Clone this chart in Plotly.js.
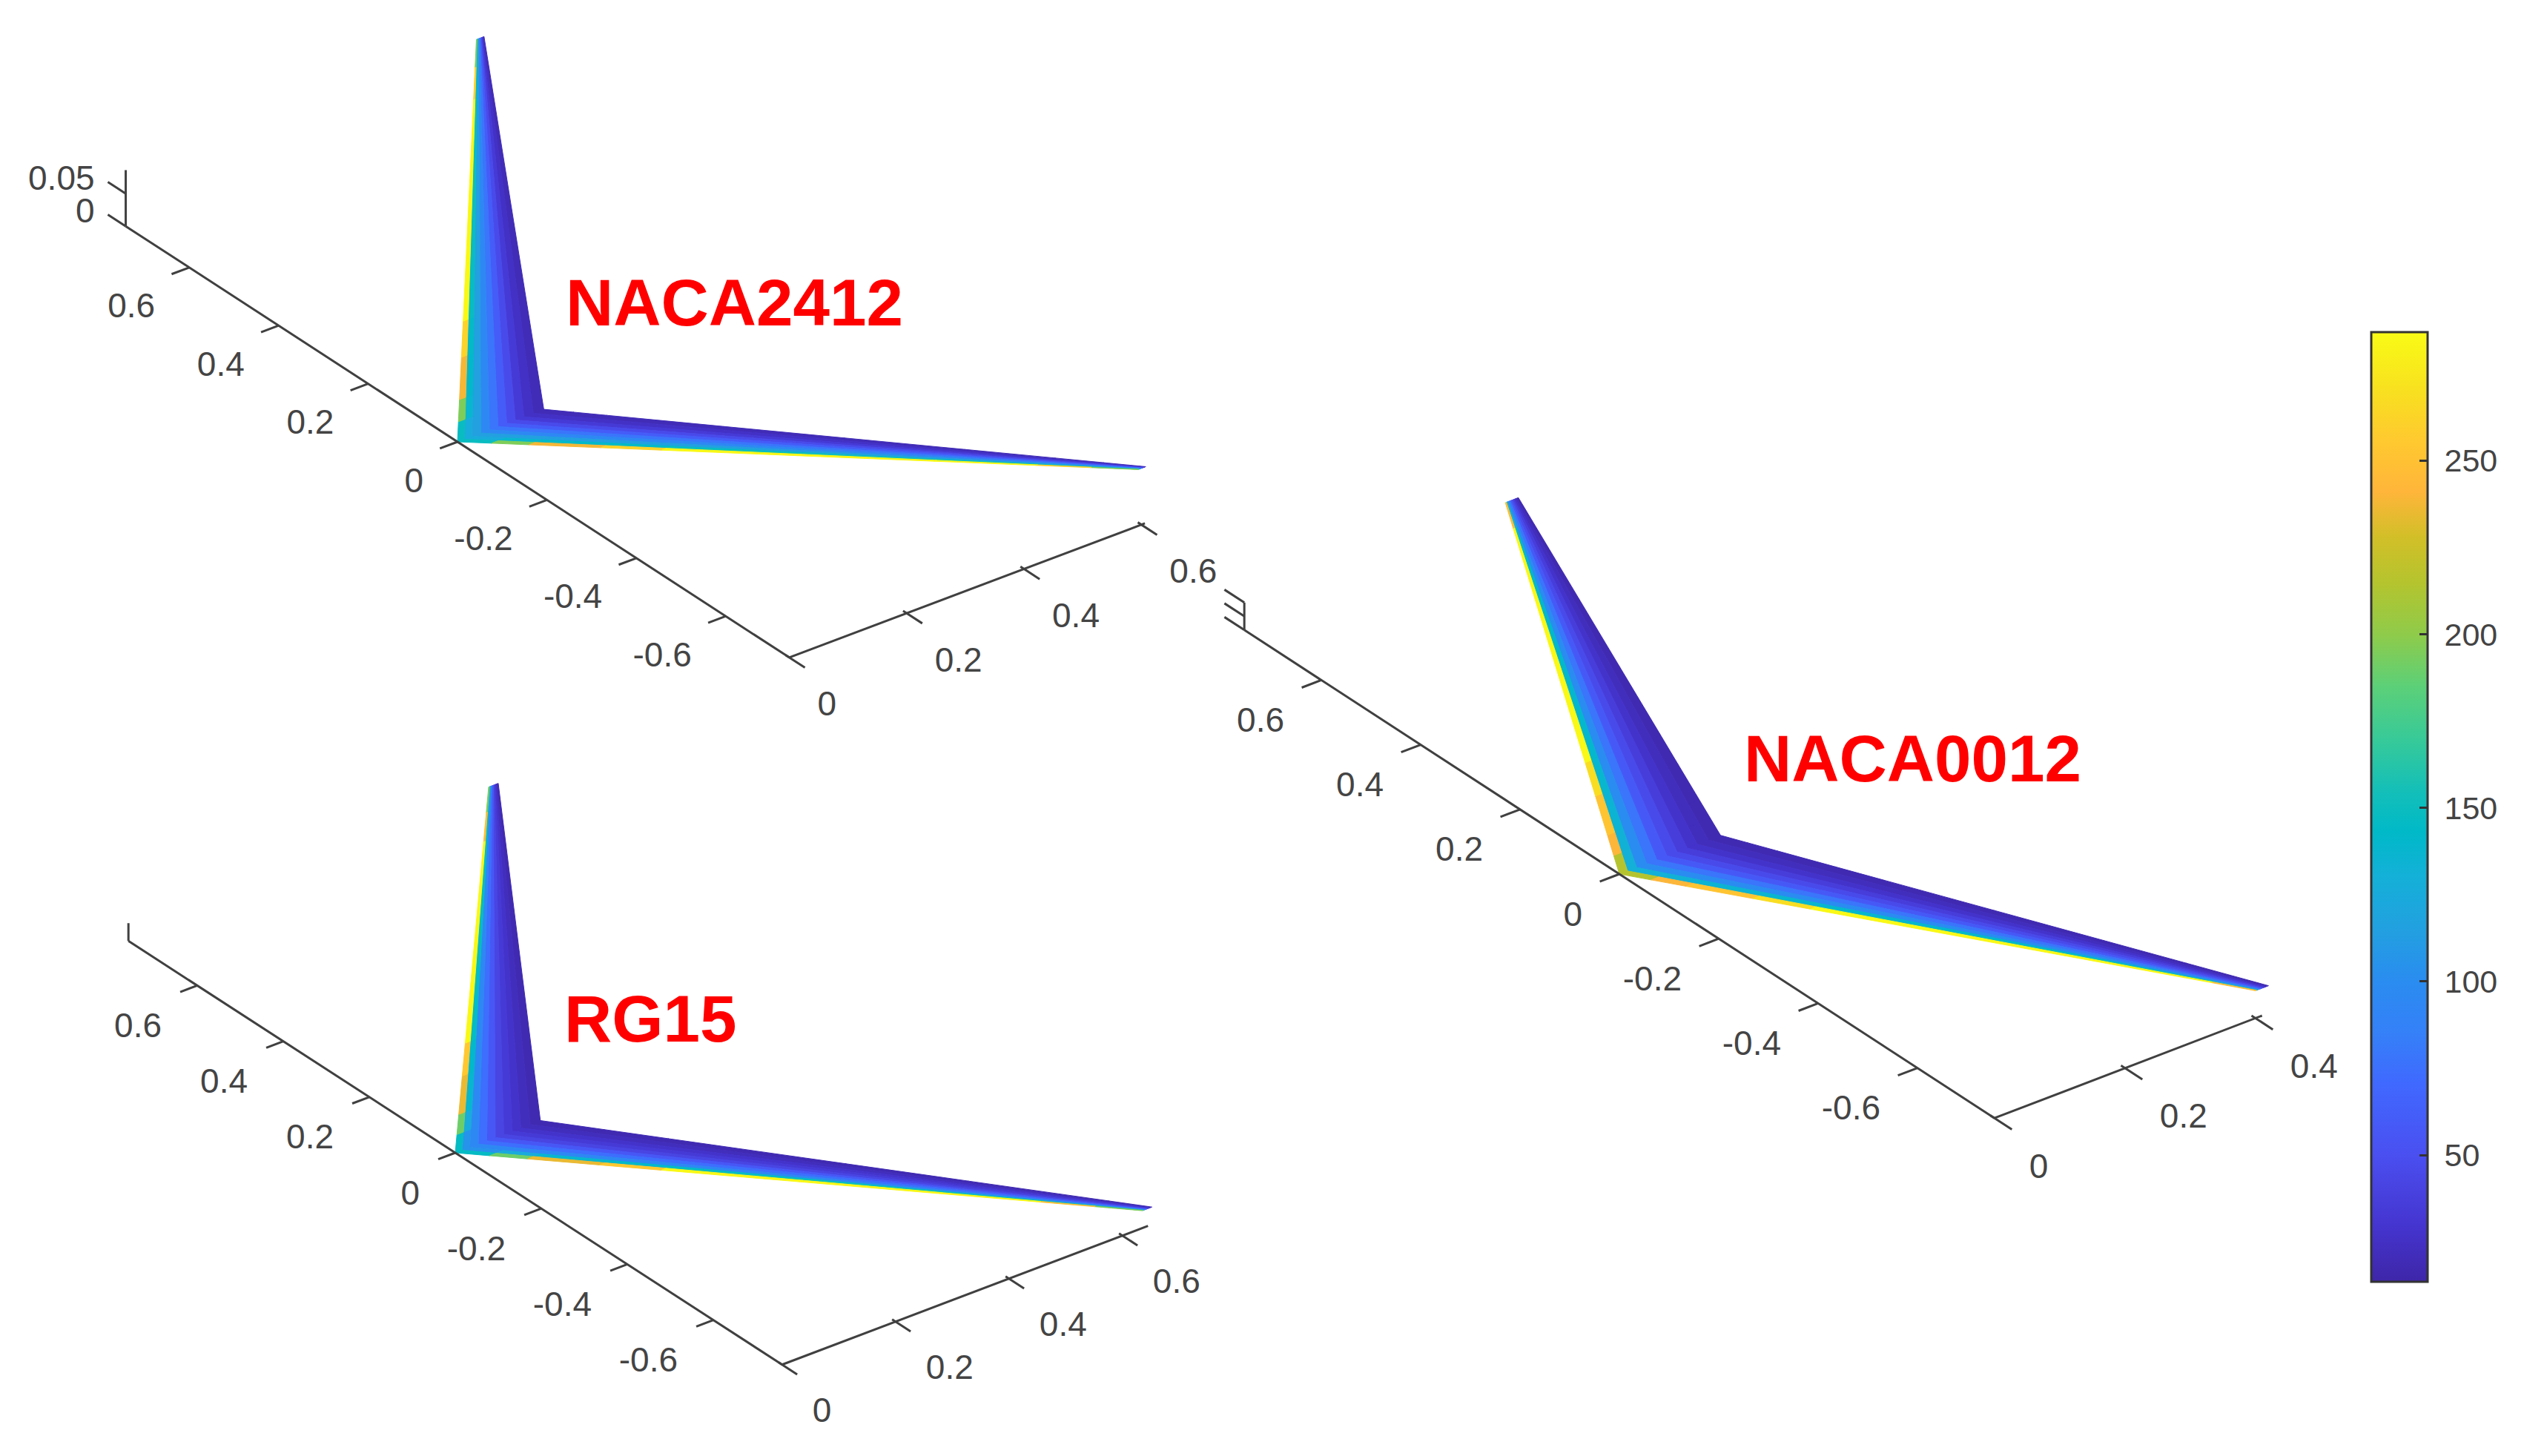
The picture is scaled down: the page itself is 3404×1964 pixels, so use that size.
<!DOCTYPE html>
<html>
<head>
<meta charset="utf-8">
<script src="https://cdn.plot.ly/plotly-3.0.1.min.js"></script>
<style>html,body{margin:0;padding:0;background:#fff;overflow:hidden}#chart{width:3404px;height:1964px}</style>
</head>
<body>
<div id="chart"></div>
<script>
// ---------- data ----------
const spanStations  = [0, 0.05, 0.105, 0.21, 0.3, 0.5, 0.7, 0.85, 0.93, 1];
const chordStations = [0, 0.08, 0.17, 0.27, 0.37, 0.47, 0.57, 0.67, 0.77, 0.88, 1];

const naca2412Leading = [148, 195, 238, 262, 285, 285, 285, 262, 195];
const naca2412Second  = [125, 138, 142, 145, 148, 150, 148, 140, 130];
const naca2412Bands   = [115, 95, 78, 60, 46, 34, 26, 20, 14];

const rg15Leading = [146, 190, 235, 255, 285, 285, 285, 250, 195];
const rg15Second  = [105, 125, 138, 142, 146, 148, 146, 140, 128];
const rg15Bands   = [95, 74, 56, 42, 34, 28, 22, 18, 14];

const naca0012Leading = [215, 240, 252, 268, 285, 285, 285, 285, 250];
const naca0012Second  = [130, 132, 135, 138, 140, 142, 142, 140, 130];
const naca0012Bands   = [100, 78, 58, 46, 36, 28, 22, 18, 14];

const yTicks = [0.6, 0.4, 0.2, 0, -0.2, -0.4, -0.6];
const yTickLabels = ['0.6', '0.4', '0.2', '0', '-0.2', '-0.4', '-0.6'];

const colorValues = [14, 30, 50, 70, 85, 100, 115, 130, 143, 155, 170, 185, 200, 215, 228, 241, 255, 270, 287];
const colorHex = ['#3e26a8','#4535d0','#4a4ff0','#4068ff','#3580f8','#2a8cf0','#22a0e0','#14b0d8','#00b9c8','#14bfb8','#38ca98','#5cd078','#8fcb4a','#b5c42e','#d2bf28','#ffb53a','#ffc830','#f8e020','#f9fb15'];
const colorMin = 13.5, colorMax = 287;
const colorbarTicks = [50, 100, 150, 200, 250];

// ---------- view of each wing: how the three data axes lie on the page ----------
const panels = [
  {name:'NACA2412', leading:naca2412Leading, second:naca2412Second, bands:naca2412Bands,
   origin:[617,596], ex:[791.5,-298.5], ey:[-603,-392], ez:[0,-880],
   yLim:0.742, xEnd:0.606, zEnd:0.086, rootChord:0.147, tipLE:0.596, tipTE:0.609, tipY:0.74, tipZ:0.085,
   xTicks:[0,0.2,0.4,0.6], xTickLabels:['0','0.2','0.4','0.6'],
   zTicks:[0,0.05], zTickLabels:['0','0.05'], zLabelOffset:[-42,-17],
   yLabelOffset:[-46,56], xLabelOffset:[38,67], title:[990,408]},
  {name:'RG15', leading:rg15Leading, second:rg15Second, bands:rg15Bands,
   origin:[614,1555], ex:[765,-290], ey:[-580,-376], ez:[0,-400],
   yLim:0.76, xEnd:0.645, zEnd:0.06, rootChord:0.15, tipLE:0.635, tipTE:0.652, tipY:0.76, tipZ:0.0588,
   xTicks:[0,0.2,0.4,0.6], xTickLabels:['0','0.2','0.4','0.6'],
   zTicks:[], zTickLabels:[], zLabelOffset:[0,0],
   yLabelOffset:[-48,58], xLabelOffset:[41,66], title:[877,1374]},
  {name:'NACA0012', leading:naca0012Leading, second:naca0012Second, bands:naca0012Bands,
   origin:[2184,1179], ex:[880,-337], ey:[-670,-436], ez:[0,-370],
   yLim:0.755, xEnd:0.41, zEnd:0.1, rootChord:0.155, tipLE:0.4, tipTE:0.42, tipY:0.755, tipZ:0.1,
   xTicks:[0,0.2,0.4], xTickLabels:['0','0.2','0.4'],
   zTicks:[0,0.05,0.1], zTickLabels:['','',''], zLabelOffset:[0,0],
   yLabelOffset:[-50,58], xLabelOffset:[47,69], title:[2579,1023]}
];

function project(p, x, y, z) {
  return [p.origin[0] + x*p.ex[0] + y*p.ey[0] + z*p.ez[0],
          p.origin[1] + x*p.ex[1] + y*p.ey[1] + z*p.ez[1]];
}
function colorOf(v) {
  let i = 0;
  while (i < colorValues.length - 2 && v > colorValues[i+1]) i++;
  const f = Math.min(1, Math.max(0, (v - colorValues[i]) / (colorValues[i+1] - colorValues[i])));
  const hex = h => [1,3,5].map(k => parseInt(h.substr(k,2),16));
  const a = hex(colorHex[i]), b = hex(colorHex[i+1]);
  return 'rgb(' + a.map((c,k) => Math.round(c + f*(b[k]-c))).join(',') + ')';
}

const traces = [];
const labelFont = {family:'Liberation Sans, Arial, sans-serif', size:46, color:'#444444'};

panels.forEach(p => {
  // one filled trace per colour value, holding every facet of that value
  const groups = new Map();
  function facetPoint(s, t, side) {
    const le = t * p.tipLE;
    const te = p.rootChord + t * (p.tipTE - p.rootChord);
    return project(p, le + s*(te - le), side*t*p.tipY, t*p.tipZ);
  }
  [1, -1].forEach(side => {
    for (let c = chordStations.length - 2; c >= 0; c--) {
      for (let j = 0; j < spanStations.length - 1; j++) {
        const value = c === 0 ? p.leading[j] : c === 1 ? p.second[j] : p.bands[c-2];
        const corners = [
          facetPoint(chordStations[c],   spanStations[j],   side),
          facetPoint(chordStations[c+1], spanStations[j],   side),
          facetPoint(chordStations[c+1], spanStations[j+1], side),
          facetPoint(chordStations[c],   spanStations[j+1], side)
        ];
        if (!groups.has(value)) groups.set(value, {x:[], y:[]});
        const g = groups.get(value);
        corners.concat([corners[0]]).forEach(q => { g.x.push(q[0]); g.y.push(q[1]); });
        g.x.push(null); g.y.push(null);
      }
    }
  });
  [...groups.entries()].sort((a,b) => a[0]-b[0]).forEach(([value, g]) => {
    const col = colorOf(value);
    traces.push({type:'scatter', mode:'lines', x:g.x, y:g.y, fill:'toself', fillcolor:col,
      line:{color:col, width:1}, hoverinfo:'skip', showlegend:false, name:p.name + ' ' + value});
  });

  // box edges and tick marks
  const ax = [], ay = [];
  function seg(a, b) { ax.push(a[0], b[0], null); ay.push(a[1], b[1], null); }
  seg(project(p,0,p.yLim,0), project(p,0,-p.yLim,0));
  seg(project(p,0,-p.yLim,0), project(p,p.xEnd,-p.yLim,0));
  seg(project(p,0,p.yLim,0), project(p,0,p.yLim,p.zEnd));
  yTicks.forEach(v => seg(project(p,0,v,0), project(p,-0.03,v,0)));
  p.xTicks.forEach(v => seg(project(p,v,-p.yLim+0.008,0), project(p,v,-p.yLim-0.035,0)));
  p.zTicks.forEach(v => seg(project(p,0,p.yLim,v), project(p,0,p.yLim+0.04,v)));
  traces.push({type:'scatter', mode:'lines', x:ax, y:ay, line:{color:'#404040', width:3},
    hoverinfo:'skip', showlegend:false, name:p.name + ' axes'});

  // tick labels
  const yPts = yTicks.map(v => project(p,0,v,0));
  traces.push({type:'scatter', mode:'text', textposition:'middle left', hoverinfo:'skip', showlegend:false,
    x:yPts.map(q => q[0] + p.yLabelOffset[0]), y:yPts.map(q => q[1] + p.yLabelOffset[1]),
    text:yTickLabels, textfont:labelFont});
  const xPts = p.xTicks.map(v => project(p,v,-p.yLim,0));
  traces.push({type:'scatter', mode:'text', textposition:'middle right', hoverinfo:'skip', showlegend:false,
    x:xPts.map(q => q[0] + p.xLabelOffset[0]), y:xPts.map(q => q[1] + p.xLabelOffset[1]),
    text:p.xTickLabels, textfont:labelFont});
  if (p.zTickLabels.some(s => s)) {
    const zPts = p.zTicks.map(v => project(p,0,p.yLim,v));
    traces.push({type:'scatter', mode:'text', textposition:'middle left', hoverinfo:'skip', showlegend:false,
      x:zPts.map(q => q[0] + p.zLabelOffset[0]), y:zPts.map(q => q[1] + p.zLabelOffset[1]),
      text:p.zTickLabels, textfont:labelFont});
  }
});

// colour bar
const colorscale = colorValues.map((v,i) => [Math.max(0,(v-colorMin)/(colorMax-colorMin)), colorHex[i]]);
colorscale[0][0] = 0; colorscale[colorscale.length-1][0] = 1;
traces.push({type:'scatter', mode:'markers', x:[-100,-100], y:[-100,-100], hoverinfo:'skip', showlegend:false,
  marker:{color:[colorMin,colorMax], cmin:colorMin, cmax:colorMax, colorscale:colorscale, size:1, opacity:0,
    showscale:true,
    colorbar:{x:3198/3404, xanchor:'left', xpad:0, y:(1964-1729)/1964, yanchor:'bottom', ypad:0,
      lenmode:'pixels', len:1281, thicknessmode:'pixels', thickness:76,
      outlinecolor:'#333333', outlinewidth:3,
      tickmode:'array', tickvals:colorbarTicks, ticktext:colorbarTicks.map(v => '\u00A0' + v),
      ticks:'inside', ticklen:12, tickwidth:3, tickcolor:'#333333',
      tickfont:{family:'Liberation Sans, Arial, sans-serif', size:43, color:'#444444'}}}});

const layout = {
  width:3404, height:1964, margin:{l:0,r:0,t:0,b:0,pad:0}, paper_bgcolor:'#ffffff', plot_bgcolor:'#ffffff',
  showlegend:false, hovermode:false,
  xaxis:{range:[0,3404], visible:false, fixedrange:true, domain:[0,1]},
  yaxis:{range:[1964,0], visible:false, fixedrange:true, domain:[0,1]},
  annotations:panels.map(p => ({xref:'x', yref:'y', x:p.title[0], y:p.title[1], text:'<b>' + p.name + '</b>', showarrow:false,
    xanchor:'center', yanchor:'middle',
    font:{family:'Liberation Sans, Arial, sans-serif', size:89, color:'#ff0000'}}))
};

Plotly.newPlot('chart', traces, layout, {staticPlot:true, displayModeBar:false});
</script>
</body>
</html>
